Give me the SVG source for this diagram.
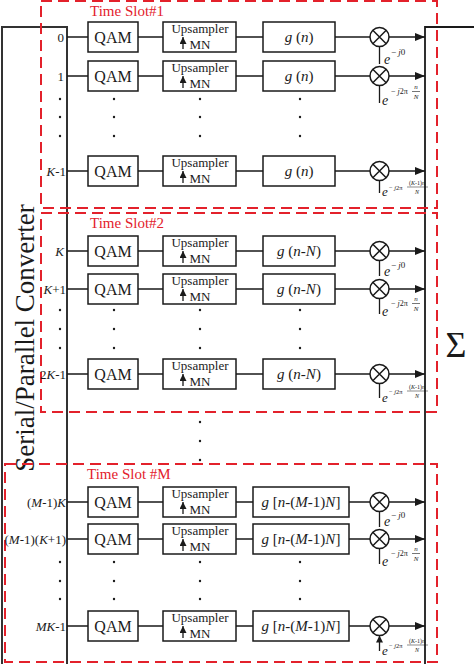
<svg xmlns="http://www.w3.org/2000/svg" width="474" height="664" viewBox="0 0 474 664">
<defs>
<style>
.bg{fill:#fff}
.box{fill:#fff;stroke:#1a1a1a;stroke-width:1.5}
.ln{stroke:#1a1a1a;stroke-width:1.5;fill:none}
.ar{stroke:#1a1a1a;stroke-width:1.5;fill:none;marker-end:url(#ah)}
.up{stroke:#1a1a1a;stroke-width:1.3;fill:none;marker-end:url(#ahs)}
.slot{fill:none;stroke:#e3212b;stroke-width:2;stroke-dasharray:11 6}
.t{font-family:"Liberation Serif","Times New Roman",serif;fill:#1a1a1a}
.i{font-style:italic}
.red{fill:#e3212b;font-size:15px}
.qam{font-size:16px;text-anchor:middle}
.ups{font-size:13px;text-anchor:middle}
.g{font-size:15px;text-anchor:middle}
.lab{font-size:13px;text-anchor:end}
.dot{fill:#1a1a1a}
.mul{fill:#fff;stroke:#1a1a1a;stroke-width:1.5}
</style>
<marker id="ah" markerWidth="10" markerHeight="8" refX="10" refY="4" orient="auto" markerUnits="userSpaceOnUse"><path d="M0,0 L10,4 L0,8 Z" fill="#1a1a1a"/></marker>
<marker id="ahs" markerWidth="7" markerHeight="7" refX="7" refY="3.5" orient="auto" markerUnits="userSpaceOnUse"><path d="M0,0 L7,3.5 L0,7 Z" fill="#1a1a1a"/></marker>
<g id="mulsym"><circle class="mul" cx="0" cy="0" r="9.5"/><path class="ln" d="M-6.7,-6.7 L6.7,6.7 M-6.7,6.7 L6.7,-6.7"/></g>
</defs>
<rect class="bg" x="0" y="0" width="474" height="664"/>

<!-- Serial/Parallel converter -->
<g id="converter">
<path d="M2,664 L2,27 L67,27 L67,664" fill="none" stroke="#333" stroke-width="2"/>
<text class="t" x="0" y="0" font-size="27" text-anchor="middle" transform="translate(34,338) rotate(-90)">Serial/Parallel Converter</text>
</g>

<!-- Sum -->
<g id="sum">
<path d="M474,27 L425,27 L425,664" fill="none" stroke="#1a1a1a" stroke-width="1.8"/>
<text class="t" x="456" y="357" font-size="36" text-anchor="middle">Σ</text>
</g>

<!-- time slot frames -->
<g id="slot1"><rect class="slot" x="41" y="1" width="396" height="207"/><text class="t red" x="90" y="16">Time Slot#1</text></g>
<g id="slot2"><rect class="slot" x="41" y="213" width="396" height="199"/><text class="t red" x="90" y="228">Time Slot#2</text></g>
<g id="slotM"><rect class="slot" x="5" y="464" width="432" height="198"/><text class="t red" x="87" y="479">Time Slot #M</text></g>

<!-- connectors -->
<g id="connectors">
<!-- slot 1 rows: 37, 76, 171 -->
<path class="ar" d="M67,37 H88 M138,37 H163 M236,37 H263 M335,37 H370 M389,37 H425"/>
<path class="ar" d="M67,76 H88 M138,76 H163 M236,76 H263 M335,76 H370 M389,76 H425"/>
<path class="ar" d="M67,171 H88 M138,171 H163 M236,171 H263 M335,171 H370 M389,171 H425"/>
<!-- slot 2 rows: 251, 289, 374 -->
<path class="ar" d="M67,251 H88 M138,251 H163 M236,251 H263 M335,251 H370 M389,251 H425"/>
<path class="ar" d="M67,289 H88 M138,289 H163 M236,289 H263 M335,289 H370 M389,289 H425"/>
<path class="ar" d="M67,374 H88 M138,374 H163 M236,374 H263 M335,374 H370 M389,374 H425"/>
<!-- slot M rows: 502, 539, 626 -->
<path class="ar" d="M67,502 H88 M138,502 H163 M236,502 H253 M349,502 H370 M389,502 H425"/>
<path class="ar" d="M67,539 H88 M138,539 H163 M236,539 H253 M349,539 H370 M389,539 H425"/>
<path class="ar" d="M67,626 H88 M138,626 H163 M236,626 H253 M349,626 H370 M389,626 H425"/>
<!-- exponent inputs -->
<path class="up" d="M379.5,64 V46.5 M379.5,103 V85.5 M379.5,193 V180.5 M379.5,276 V260.5 M379.5,314 V298.5 M379.5,398 V383.5 M379.5,527 V511.5 M379.5,564 V548.5 M379.5,651 V635.5"/>
</g>

<!-- row nodes -->
<g id="row0">
<text class="t lab" x="64" y="42">0</text>
<rect class="box" x="88" y="22" width="50" height="30"/><text class="t qam" x="113" y="43">QAM</text>
<rect class="box" x="163" y="22" width="73" height="30"/><text class="t ups" x="200" y="33">Upsampler</text><path class="up" d="M183,49 V37"/><text class="t ups" x="200" y="49">MN</text>
<rect class="box" x="263" y="22" width="72" height="30"/><text class="t g" x="299" y="42"><tspan class="i">g</tspan> (<tspan class="i">n</tspan>)</text>
<use href="#mulsym" x="379.5" y="37"/>
<text class="t i" x="384" y="64" font-size="14">e</text><text class="t" x="391" y="55" font-size="9">− <tspan class="i">j</tspan>0</text>
</g>
<g id="row1">
<text class="t lab" x="64" y="81">1</text>
<rect class="box" x="88" y="61" width="50" height="30"/><text class="t qam" x="113" y="82">QAM</text>
<rect class="box" x="163" y="61" width="73" height="30"/><text class="t ups" x="200" y="72">Upsampler</text><path class="up" d="M183,88 V76"/><text class="t ups" x="200" y="88">MN</text>
<rect class="box" x="263" y="61" width="72" height="30"/><text class="t g" x="299" y="81"><tspan class="i">g</tspan> (<tspan class="i">n</tspan>)</text>
<use href="#mulsym" x="379.5" y="76"/>
<text class="t i" x="382" y="105" font-size="14">e</text><text class="t" x="391" y="94" font-size="8">− <tspan class="i">j</tspan>2π</text><text class="t i" x="416" y="89" font-size="7" text-anchor="middle">n</text><path d="M412,91.5 H420" stroke="#1a1a1a" stroke-width="0.6"/><text class="t i" x="416" y="99" font-size="7" text-anchor="middle">N</text>
</g>
<g id="rowK-1">
<text class="t lab" x="66" y="176"><tspan class="i">K</tspan>-1</text>
<rect class="box" x="88" y="156" width="50" height="30"/><text class="t qam" x="113" y="177">QAM</text>
<rect class="box" x="163" y="156" width="73" height="30"/><text class="t ups" x="200" y="167">Upsampler</text><path class="up" d="M183,183 V171"/><text class="t ups" x="200" y="183">MN</text>
<rect class="box" x="263" y="156" width="72" height="30"/><text class="t g" x="299" y="176"><tspan class="i">g</tspan> (<tspan class="i">n</tspan>)</text>
<use href="#mulsym" x="379.5" y="171"/>
<text class="t i" x="382" y="196" font-size="13">e</text><text class="t" x="389" y="190" font-size="6.5">− <tspan class="i">j</tspan>2π</text><text class="t" x="417" y="185" font-size="6" text-anchor="middle">(<tspan class="i">K</tspan>-1)<tspan class="i">n</tspan></text><path d="M407,187 H428" stroke="#1a1a1a" stroke-width="0.5"/><text class="t i" x="417" y="194" font-size="6" text-anchor="middle">N</text>
</g>

<g id="rowK">
<text class="t lab" x="64" y="256" font-style="italic">K</text>
<rect class="box" x="88" y="236" width="50" height="30"/><text class="t qam" x="113" y="257">QAM</text>
<rect class="box" x="163" y="236" width="73" height="30"/><text class="t ups" x="200" y="247">Upsampler</text><path class="up" d="M183,263 V251"/><text class="t ups" x="200" y="263">MN</text>
<rect class="box" x="263" y="236" width="72" height="30"/><text class="t g" x="299" y="256"><tspan class="i">g</tspan> (<tspan class="i">n</tspan>-<tspan class="i">N</tspan>)</text>
<use href="#mulsym" x="379.5" y="251"/>
<text class="t i" x="384" y="276" font-size="14">e</text><text class="t" x="391" y="268" font-size="9">− <tspan class="i">j</tspan>0</text>
</g>
<g id="rowK+1">
<text class="t lab" x="66" y="294"><tspan class="i">K</tspan>+1</text>
<rect class="box" x="88" y="274" width="50" height="30"/><text class="t qam" x="113" y="295">QAM</text>
<rect class="box" x="163" y="274" width="73" height="30"/><text class="t ups" x="200" y="285">Upsampler</text><path class="up" d="M183,301 V289"/><text class="t ups" x="200" y="301">MN</text>
<rect class="box" x="263" y="274" width="72" height="30"/><text class="t g" x="299" y="294"><tspan class="i">g</tspan> (<tspan class="i">n</tspan>-<tspan class="i">N</tspan>)</text>
<use href="#mulsym" x="379.5" y="289"/>
<text class="t i" x="382" y="316" font-size="14">e</text><text class="t" x="391" y="306" font-size="8">− <tspan class="i">j</tspan>2π</text><text class="t i" x="416" y="301" font-size="7" text-anchor="middle">n</text><path d="M412,303.5 H420" stroke="#1a1a1a" stroke-width="0.6"/><text class="t i" x="416" y="311" font-size="7" text-anchor="middle">N</text>
</g>
<g id="row2K-1">
<text class="t lab" x="66" y="379">2<tspan class="i">K</tspan>-1</text>
<rect class="box" x="88" y="359" width="50" height="30"/><text class="t qam" x="113" y="380">QAM</text>
<rect class="box" x="163" y="359" width="73" height="30"/><text class="t ups" x="200" y="370">Upsampler</text><path class="up" d="M183,386 V374"/><text class="t ups" x="200" y="386">MN</text>
<rect class="box" x="263" y="359" width="72" height="30"/><text class="t g" x="299" y="379"><tspan class="i">g</tspan> (<tspan class="i">n</tspan>-<tspan class="i">N</tspan>)</text>
<use href="#mulsym" x="379.5" y="374"/>
<text class="t i" x="382" y="402" font-size="13">e</text><text class="t" x="389" y="394" font-size="6.5">− <tspan class="i">j</tspan>2π</text><text class="t" x="417" y="389" font-size="6" text-anchor="middle">(<tspan class="i">K</tspan>-1)<tspan class="i">n</tspan></text><path d="M407,391 H428" stroke="#1a1a1a" stroke-width="0.5"/><text class="t i" x="417" y="398" font-size="6" text-anchor="middle">N</text>
</g>

<g id="rowMK0">
<text class="t lab" x="66" y="507">(<tspan class="i">M</tspan>-1)<tspan class="i">K</tspan></text>
<rect class="box" x="88" y="487" width="50" height="30"/><text class="t qam" x="113" y="508">QAM</text>
<rect class="box" x="163" y="487" width="73" height="30"/><text class="t ups" x="200" y="498">Upsampler</text><path class="up" d="M183,514 V502"/><text class="t ups" x="200" y="514">MN</text>
<rect class="box" x="253" y="487" width="96" height="30"/><text class="t g" x="301" y="507"><tspan class="i">g</tspan> [<tspan class="i">n</tspan>-(<tspan class="i">M</tspan>-1)<tspan class="i">N</tspan>]</text>
<use href="#mulsym" x="379.5" y="502"/>
<text class="t i" x="384" y="526" font-size="14">e</text><text class="t" x="391" y="518" font-size="9">− <tspan class="i">j</tspan>0</text>
</g>
<g id="rowMK1">
<text class="t lab" x="66" y="544">(<tspan class="i">M</tspan>-1)(<tspan class="i">K</tspan>+1)</text>
<rect class="box" x="88" y="524" width="50" height="30"/><text class="t qam" x="113" y="545">QAM</text>
<rect class="box" x="163" y="524" width="73" height="30"/><text class="t ups" x="200" y="535">Upsampler</text><path class="up" d="M183,551 V539"/><text class="t ups" x="200" y="551">MN</text>
<rect class="box" x="253" y="524" width="96" height="30"/><text class="t g" x="301" y="544"><tspan class="i">g</tspan> [<tspan class="i">n</tspan>-(<tspan class="i">M</tspan>-1)<tspan class="i">N</tspan>]</text>
<use href="#mulsym" x="379.5" y="539"/>
<text class="t i" x="382" y="566" font-size="14">e</text><text class="t" x="391" y="556" font-size="8">− <tspan class="i">j</tspan>2π</text><text class="t i" x="416" y="551" font-size="7" text-anchor="middle">n</text><path d="M412,553.5 H420" stroke="#1a1a1a" stroke-width="0.6"/><text class="t i" x="416" y="561" font-size="7" text-anchor="middle">N</text>
</g>
<g id="rowMK-1">
<text class="t lab" x="66" y="631"><tspan class="i">MK</tspan>-1</text>
<rect class="box" x="88" y="611" width="50" height="30"/><text class="t qam" x="113" y="632">QAM</text>
<rect class="box" x="163" y="611" width="73" height="30"/><text class="t ups" x="200" y="622">Upsampler</text><path class="up" d="M183,638 V626"/><text class="t ups" x="200" y="638">MN</text>
<rect class="box" x="253" y="611" width="96" height="30"/><text class="t g" x="301" y="631"><tspan class="i">g</tspan> [<tspan class="i">n</tspan>-(<tspan class="i">M</tspan>-1)<tspan class="i">N</tspan>]</text>
<use href="#mulsym" x="379.5" y="626"/>
<text class="t i" x="382" y="655" font-size="13">e</text><text class="t" x="389" y="648" font-size="6.5">− <tspan class="i">j</tspan>2π</text><text class="t" x="417" y="643" font-size="6" text-anchor="middle">(<tspan class="i">K</tspan>-1)<tspan class="i">n</tspan></text><path d="M407,645 H428" stroke="#1a1a1a" stroke-width="0.5"/><text class="t i" x="417" y="652" font-size="6" text-anchor="middle">N</text>
</g>

<!-- ellipsis dots -->
<g id="dots">
<circle class="dot" cx="60" cy="99" r="1.2"/><circle class="dot" cx="60" cy="117" r="1.2"/><circle class="dot" cx="60" cy="136" r="1.2"/>
<circle class="dot" cx="114" cy="99" r="1.2"/><circle class="dot" cx="114" cy="117" r="1.2"/><circle class="dot" cx="114" cy="136" r="1.2"/>
<circle class="dot" cx="200" cy="99" r="1.2"/><circle class="dot" cx="200" cy="117" r="1.2"/><circle class="dot" cx="200" cy="136" r="1.2"/>
<circle class="dot" cx="300" cy="99" r="1.2"/><circle class="dot" cx="300" cy="117" r="1.2"/><circle class="dot" cx="300" cy="136" r="1.2"/>
<circle class="dot" cx="60" cy="310" r="1.2"/><circle class="dot" cx="60" cy="329" r="1.2"/><circle class="dot" cx="60" cy="348" r="1.2"/>
<circle class="dot" cx="114" cy="310" r="1.2"/><circle class="dot" cx="114" cy="329" r="1.2"/><circle class="dot" cx="114" cy="348" r="1.2"/>
<circle class="dot" cx="200" cy="310" r="1.2"/><circle class="dot" cx="200" cy="329" r="1.2"/><circle class="dot" cx="200" cy="348" r="1.2"/>
<circle class="dot" cx="300" cy="310" r="1.2"/><circle class="dot" cx="300" cy="329" r="1.2"/><circle class="dot" cx="300" cy="348" r="1.2"/>
<circle class="dot" cx="200" cy="422" r="1.2"/><circle class="dot" cx="200" cy="441" r="1.2"/><circle class="dot" cx="200" cy="460" r="1.2"/>
<circle class="dot" cx="60" cy="562" r="1.2"/><circle class="dot" cx="60" cy="581" r="1.2"/><circle class="dot" cx="60" cy="599" r="1.2"/>
<circle class="dot" cx="114" cy="562" r="1.2"/><circle class="dot" cx="114" cy="581" r="1.2"/><circle class="dot" cx="114" cy="599" r="1.2"/>
<circle class="dot" cx="200" cy="562" r="1.2"/><circle class="dot" cx="200" cy="581" r="1.2"/><circle class="dot" cx="200" cy="599" r="1.2"/>
<circle class="dot" cx="300" cy="562" r="1.2"/><circle class="dot" cx="300" cy="581" r="1.2"/><circle class="dot" cx="300" cy="599" r="1.2"/>
</g>
</svg>
